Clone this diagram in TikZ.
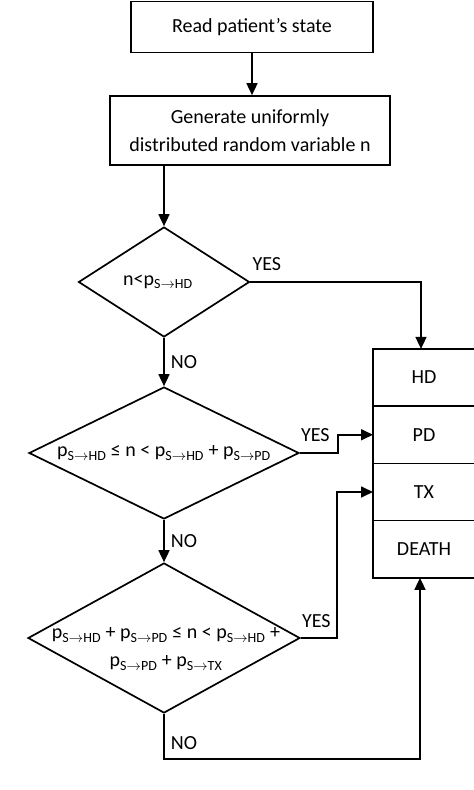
\documentclass[tikz,border=0pt]{standalone}
\usepackage{fontspec}
\setmainfont{Carlito}
\usetikzlibrary{arrows.meta, positioning, shapes.geometric}
\newcommand{\fsz}{\fontsize{20}{28}\selectfont}
\newcommand{\psub}[1]{p\textsubscript{S$\to$#1}}
\tikzset{
  stepbox/.style={rectangle, draw, line width=1.7pt, align=center,
                  inner sep=0pt, font=\fsz},
  decision/.style={diamond, draw, line width=1.7pt, inner sep=0pt},
  dtext/.style={align=center, inner sep=0pt, font=\fsz},
  state/.style={rectangle, draw, line width=1.7pt, minimum width=102pt,
                minimum height=57.25pt, inner sep=0pt, outer sep=0pt, font=\fsz},
  lbl/.style={inner sep=0pt, font=\fsz},
  arrow/.style={-{Triangle[length=12pt, width=11pt]}, line width=1.7pt},
  link/.style={line width=1.7pt},
}

\begin{document}
\begin{tikzpicture}[x=1pt, y=-1pt]
  \useasboundingbox (0,0) rectangle (474,790);

  \node[stepbox, minimum width=242pt, minimum height=51pt] (read) at (252,27)
    {Read patient’s state};
  \node[stepbox, minimum width=280pt, minimum height=69pt] (gen) at (250,130.5)
    {Generate uniformly\\distributed random variable n};

  \node[decision, minimum width=171pt, minimum height=110pt] (d1) at (164,282) {};
  \node[dtext] (t1) at ([xshift=-6pt]d1.center) {n<\psub{HD}};
  \node[decision, minimum width=270pt, minimum height=132pt] (d2) at (164,453) {};
  \node[dtext] (t2) at (d2.center) {\psub{HD} ≤ n < \psub{HD} + \psub{PD}};
  \node[decision, minimum width=272pt, minimum height=150pt] (d3) at (164,638) {};
  \node[dtext] (t3) at ([xshift=2pt, yshift=-11pt]d3.center)
    {\psub{HD} + \psub{PD} ≤ n < \psub{HD} +\\\psub{PD} + \psub{TX}};

  % outcome states
  \node[state] (hd) at (424,377.5) {HD};
  \node[state, below=0pt of hd] (pd) {PD};
  \node[state, below=0pt of pd] (tx) {TX};
  \node[state, below=0pt of tx] (death) {DEATH};

  \draw[arrow] (read.south) -- (read.south |- gen.north);
  \draw[arrow] (d1.north |- gen.south) -- (d1.north);

  \draw[arrow] (d1.east) -| ([xshift=-3pt]hd.north);
  \node[lbl, anchor=south west] (y1) at ([xshift=2pt, yshift=11pt]d1.east) {YES};
  \draw[arrow] (d1.south) -- (d2.north)
    node[lbl, midway, right=6pt] (n1) {NO};

  \draw[arrow] (d2.east) -- ++(38,0) |- (pd.west);
  \node[lbl, anchor=south west] (y2) at ([xshift=1pt, yshift=11pt]d2.east) {YES};
  \draw[arrow] (d2.south) -- (d3.north)
    node[lbl, midway, right=6pt] (n2) {NO};

  \draw[arrow] (d3.east) -- ++(36,0) |- (tx.west);
  \node[lbl, anchor=south west] (y3) at ([xshift=1pt, yshift=10pt]d3.east) {YES};
  \draw[arrow] (d3.south) -- ++(0,45)
    node[lbl, pos=0.64, right=6pt] (n3) {NO} -| ([xshift=-4pt]death.south);
\end{tikzpicture}
\end{document}
